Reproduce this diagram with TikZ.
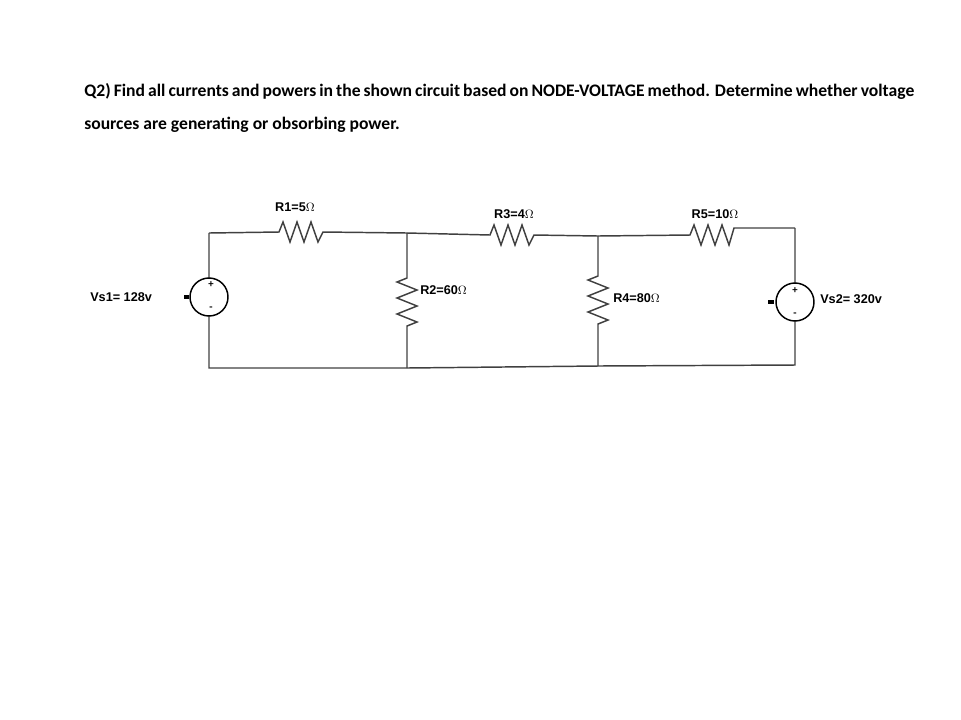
\documentclass[tikz,border=0pt]{standalone}
\usepackage{fontspec}
\setmainfont{Carlito}
\newfontfamily\lab{Liberation Sans}
\begin{document}
\begin{tikzpicture}[x=0.75pt,y=-0.75pt,
  wire/.style={draw=black!75,line width=1.1pt},
  lbl/.style={font=\lab\bfseries\fontsize{9.5}{11}\selectfont,inner sep=0pt},
  src/.style={circle,draw=black,line width=1.1pt,minimum size=28.5pt,inner sep=0pt,fill=white}]
\useasboundingbox (0,0) rectangle (961,719);
\node[anchor=north west,text width=830*0.75pt,align=justify,inner sep=0pt,font=\bfseries\fontsize{13.2}{24.5}\selectfont] (title) at (84,83)
{Q2) Find all currents and powers in the shown circuit based on NODE-VOLTAGE method. Determine whether voltage sources are generating or obsorbing power.};
% nodes
\coordinate (tl) at (209,233); \coordinate (bl) at (209,368);
\coordinate (n1) at (407,233); \coordinate (n1b) at (407,368);
\coordinate (n2) at (598,236); \coordinate (n2b) at (598,366);
\coordinate (tr) at (795,228); \coordinate (br) at (795,365);
% wires
\draw[wire] (tl) -- (279,232) -- (283,222) -- (290,242) -- (297,222) -- (304,242) -- (311,222) -- (318,242) -- (323,232) -- (n1);
\draw[wire] (n1) -- (490,235) -- (494,225) -- (501,245) -- (508,225) -- (515,245) -- (522,225) -- (529,245) -- (534,235) -- (n2);
\draw[wire] (n2) -- (690,235) -- (694,225) -- (701,245) -- (708,225) -- (715,245) -- (722,225) -- (729,245) -- (734,228) -- (tr);
\draw[wire] (n1) -- (407,278) -- (397,282) -- (417,290) -- (397,298) -- (417,306) -- (397,314) -- (417,322) -- (407,326) -- (n1b);
\draw[wire] (n2) -- (598,276) -- (588,280) -- (608,288) -- (588,296) -- (608,304) -- (588,312) -- (608,320) -- (598,324) -- (n2b);
\draw[wire] (tl) -- (bl) -- (n1b) -- (n2b) -- (br) -- (tr);
% sources
\node[src] (vs1) at (209,297) {};
\node[font=\bfseries\footnotesize,inner sep=0pt] (p1) at (211,285) {+};
\node[font=\bfseries\footnotesize,inner sep=0pt] (m1) at (211,309) {-};
\fill (184,295) rectangle (189,299);
\node[src] (vs2) at (795,302) {};
\node[font=\bfseries\footnotesize,inner sep=0pt] (p2) at (795,291) {+};
\node[font=\bfseries\footnotesize,inner sep=0pt] (m2) at (795,315) {-};
\fill (768,300) rectangle (774,304);
% labels
\node[lbl,anchor=west] (l1) at (90,297) {Vs1= 128v};
\node[lbl] (lr1) at (295,207) {R1=5$\Omega$};
\node[lbl] (lr3) at (514,214) {R3=4$\Omega$};
\node[lbl] (lr5) at (715,214) {R5=10$\Omega$};
\node[lbl,anchor=west] (lr2) at (420,290) {R2=60$\Omega$};
\node[lbl,anchor=west] (lr4) at (613,298) {R4=80$\Omega$};
\node[lbl,anchor=west] (l2) at (820,299) {Vs2= 320v};
\end{tikzpicture}
\end{document}
